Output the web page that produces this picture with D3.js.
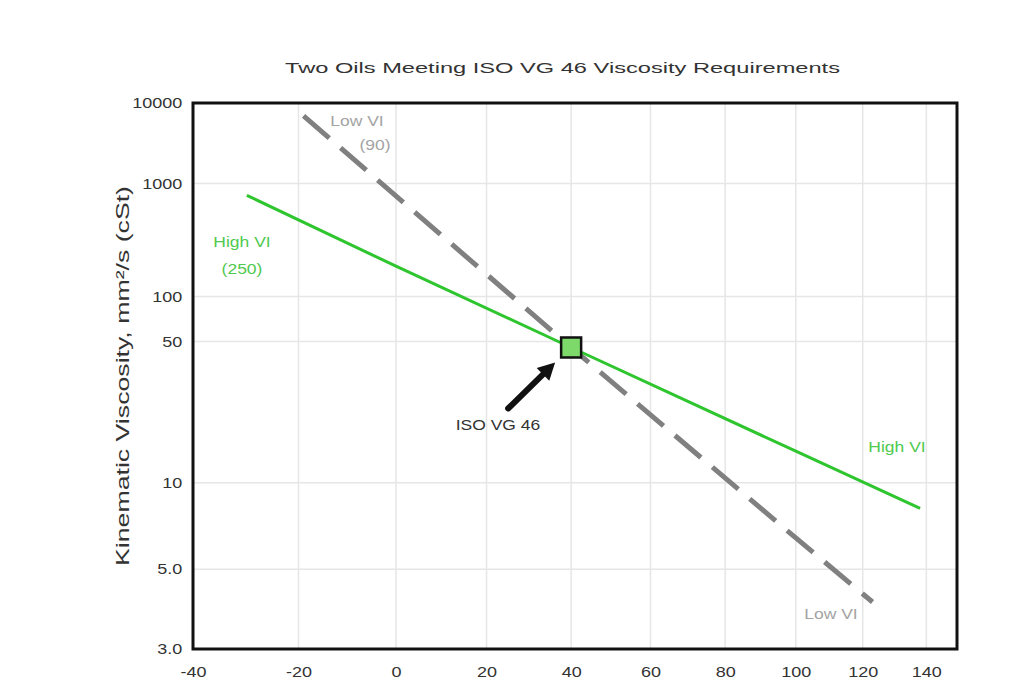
<!DOCTYPE html>
<html>
<head>
<meta charset="utf-8">
<script src="https://cdn.jsdelivr.net/npm/d3@7"></script>
<style>
  body { margin: 0; background: #fff; }
  text { font-family: "Liberation Sans", Arial, sans-serif; }
</style>
</head>
<body>
<svg id="chart" width="1024" height="695"></svg>
<script>
// temperatures in deg C, viscosity in cSt
var tempsHigh = [-30, 0, 40, 100, 138],
    viscHigh  = [750, 170, 46, 13.5, 8.0],
    tempsLow  = [-19, 40, 100, 123],
    viscLow   = [6600, 46, 6.3, 4.0],
    isoPoint  = [40, 46],
    xTicks    = [-40, -20, 0, 20, 40, 60, 80, 100, 120, 140],
    yTicks    = [3, 5, 10, 50, 100, 1000, 10000],
    yTickText = ["3.0", "5.0", "10", "50", "100", "1000", "10000"];

var plotL = 193, plotR = 957, plotT = 103, plotB = 649;
var svg = d3.select("#chart");

// ASTM D341 style axes: log(T abs) vs log(log(v + 0.7))
function ll(v){ return Math.log10(Math.log10(v + 0.7)); }
var xK = d3.scaleLog().domain([233.15, 423.15]).range([plotL, plotR]);
var x = function(t){ return xK(t + 273.15); };
var yL = d3.scaleLinear().domain([ll(3), ll(10000)]).range([plotB, plotT]);
var y = function(v){ return yL(ll(v)); };

// grid
var grid = svg.append("g").attr("id", "grid");
grid.selectAll("line.v")
    .data(xTicks.slice(1))
    .enter()
    .append("line")
    .attr("x1", function(d){ return x(d); })
    .attr("x2", function(d){ return x(d); })
    .attr("y1", plotT).attr("y2", plotB)
    .attr("stroke", "#e6e6e6").attr("stroke-width", 1.5);
grid.selectAll("line.h")
    .data(yTicks.slice(1, -1))
    .enter()
    .append("line")
    .attr("y1", function(d){ return y(d); })
    .attr("y2", function(d){ return y(d); })
    .attr("x1", plotL).attr("x2", plotR)
    .attr("stroke", "#e6e6e6").attr("stroke-width", 1.5);

// axes (labels only)
var xAxis = d3.axisBottom(xK)
    .tickValues(xTicks.map(function(t){ return t + 273.15; }))
    .tickSize(0).tickPadding(17)
    .tickFormat(function(k){ return String(Math.round(k - 273.15)); });
var gx = svg.append("g").attr("transform", "translate(0," + plotB + ")").call(xAxis);

var yAxis = d3.axisLeft(yL)
    .tickValues(yTicks.map(ll))
    .tickSize(0).tickPadding(9)
    .tickFormat(function(d, i){ return yTickText[i]; });
var gy = svg.append("g").attr("transform", "translate(" + plotL + ",0)").call(yAxis);

[gx, gy].forEach(function(g){
    g.select(".domain").remove();
    g.selectAll("text")
        .attr("font-size", 15)
        .attr("fill", "#333")
        .attr("font-family", "Liberation Sans, Arial, sans-serif")
        .attr("transform", "scale(1.2,1)");
});

// lines
var line = d3.line()
    .x(function(d){ return x(d[0]); })
    .y(function(d){ return y(d[1]); });

svg.append("path")
    .datum(d3.zip(tempsLow, viscLow))
    .attr("d", line)
    .attr("fill", "none")
    .attr("stroke", "#808080")
    .attr("stroke-width", 5)
    .attr("stroke-dasharray", "34,15");

svg.append("path")
    .datum(d3.zip(tempsHigh, viscHigh))
    .attr("d", line)
    .attr("fill", "none")
    .attr("stroke", "#2ec52e")
    .attr("stroke-width", 3);

// frame
svg.append("rect")
    .attr("x", plotL).attr("y", plotT)
    .attr("width", plotR - plotL).attr("height", plotB - plotT)
    .attr("fill", "none").attr("stroke", "#111").attr("stroke-width", 3);

// ISO VG 46 point
var px = x(isoPoint[0]), py = y(isoPoint[1]);
svg.append("rect")
    .attr("x", px - 10).attr("y", py - 10)
    .attr("width", 20).attr("height", 20)
    .attr("fill", "#7dd96a").attr("stroke", "#111").attr("stroke-width", 2.5);

// arrow to the point
var tip = [px - 16, py + 15], tail = [px - 63, py + 61];
var ang = Math.atan2(tip[1] - tail[1], tip[0] - tail[0]);
var hl = 17, hw = 9;
var base = [tip[0] - hl * Math.cos(ang), tip[1] - hl * Math.sin(ang)];
svg.append("line")
    .attr("x1", tail[0]).attr("y1", tail[1])
    .attr("x2", base[0]).attr("y2", base[1])
    .attr("stroke", "#111").attr("stroke-width", 6).attr("stroke-linecap", "round");
svg.append("polygon")
    .attr("points", [
        tip,
        [base[0] + hw * Math.sin(ang), base[1] - hw * Math.cos(ang)],
        [base[0] - hw * Math.sin(ang), base[1] + hw * Math.cos(ang)]
    ].map(function(p){ return p.join(","); }).join(" "))
    .attr("fill", "#111");

// labels
function label(txt, cx, by, color, size){
    svg.append("text")
        .attr("transform", "translate(" + cx + "," + by + ") scale(1.25,1)")
        .attr("text-anchor", "middle")
        .attr("font-size", size || 14)
        .attr("fill", color)
        .text(txt);
}
label("Low VI", 357, 126, "#a3a3a3");
label("(90)", 375, 150, "#a3a3a3");
label("High VI", 242, 247, "#4fc94f");
label("(250)", 242, 274, "#4fc94f");
label("High VI", 897, 452, "#4fc94f");
label("Low VI", 831, 619, "#a3a3a3");
label("ISO VG 46", 498, 430, "#333");

// title
svg.append("text")
    .attr("x", 285).attr("y", 73)
    .attr("font-size", 15)
    .attr("fill", "#333")
    .attr("textLength", 555)
    .attr("lengthAdjust", "spacingAndGlyphs")
    .text("Two Oils Meeting ISO VG 46 Viscosity Requirements");

// y axis title
svg.append("text")
    .attr("transform", "translate(129,376) rotate(-90) scale(1,1.2)")
    .attr("text-anchor", "middle")
    .attr("font-size", 15)
    .attr("fill", "#333")
    .attr("textLength", 380)
    .attr("lengthAdjust", "spacingAndGlyphs")
    .text("Kinematic Viscosity, mm²/s (cSt)");
</script>
</body>
</html>
